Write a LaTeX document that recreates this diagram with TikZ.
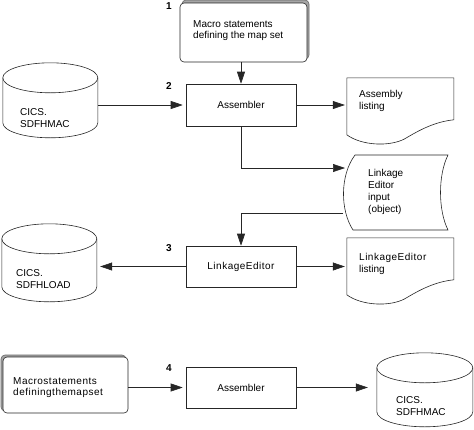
\documentclass[tikz,border=0pt]{standalone}
\usepackage{fontspec}
\setmainfont{Liberation Sans}
\usetikzlibrary{arrows.meta,calc}
\newfontfamily\spacedfont[LetterSpace=5]{Liberation Sans}
\begin{document}
\begin{tikzpicture}[x=1pt,y=1pt,
  line/.style={draw=black!85, line width=0.6pt},
  arr/.style={line, -{Triangle[length=12pt,width=8pt]}},
  box/.style={line, rectangle, minimum width=110pt, minimum height=42pt, inner sep=0pt,
    font=\fontsize{10}{12}\selectfont},
  area/.style={rectangle, inner sep=0pt},
  txt/.style={anchor=west, align=left, inner sep=0pt, font=\fontsize{10}{12}\selectfont},
  mtxt/.style={anchor=west, align=left, inner sep=0pt, font=\fontsize{10}{11}\selectfont},
  num/.style={inner sep=0pt, font=\bfseries\fontsize{10}{12}\selectfont},
  shadowbox/.style={draw=black!60, fill=black!35, line width=0.6pt, rounded corners=4pt},
  macrobox/.style={line, fill=white, rectangle, rounded corners=4pt, inner sep=0pt},
  pics/docshape/.style={code={
    \draw[line] (0,-57) -- (0,0) -- (107,0) -- (107,-42)
      .. controls (88,-44) and (73,-52) .. (58,-61)
      .. controls (43,-69) and (15,-68) .. (0,-57);
  }},
  pics/cyl/.style 2 args={code={
    \draw[line] (0,-15) -- (0,-#2+15)
      arc[start angle=180, end angle=360, x radius=#1/2, y radius=15] -- (#1,-15);
    \draw[line] (#1/2,-15) ellipse[x radius=#1/2, y radius=15];
  }}
]
\useasboundingbox (0,0) rectangle (474,-429);

% ---- macro box 1 ----
\draw[shadowbox] (182,0) rectangle (309,-59);
\node[macrobox, minimum width=127pt, minimum height=59pt] (m1) at (243.5,-32.5) {};
\node[mtxt] (m1t) at (193,-30.5) {Macro statements\\defining the map set};
\node[num] (n1) at (169,-6) {1};

% ---- assembler 1 ----
\node[box] (asm1) at (241,-105) {Assembler};
\node[num] (n2) at (169,-86) {2};

% ---- cylinder 1 ----
\node[area, minimum width=95pt, minimum height=75pt] (c1) at (50.5,-100.5) {};
\pic at (c1.north west) {cyl={95}{75}};
\node[txt] (c1t) at (20,-118) {CICS.\\SDFHMAC};

% ---- assembly listing ----
\node[area, minimum width=107pt, minimum height=66pt] (docA) at (400.5,-111) {};
\pic at (docA.north west) {docshape};
\node[txt] (docAt) at (359,-101) {Assembly\\listing};

% ---- linkage editor input ----
\node[area, minimum width=105pt, minimum height=75pt] (docB) at (395.5,-192.5) {};
\draw[line] (355,-155) -- (448,-155)
  .. controls (438,-175) and (438,-210) .. (448,-230) -- (353,-230)
  .. controls (340,-210) and (340,-175) .. (355,-155) -- cycle;
\node[txt] (docBt) at (368,-192) {Linkage\\Editor\\input\\(object)};
\coordinate (docBin) at (345,-168);
\coordinate (docBout) at (343,-213);

% ---- linkage editor ----
\node[box, minimum height=41pt] (le) at (241,-266.5) {\spacedfont LinkageEditor};
\node[num] (n3) at (169,-248) {3};

% ---- cylinder 2 ----
\node[area, minimum width=95pt, minimum height=78pt] (c2) at (49.5,-263) {};
\pic at (c2.north west) {cyl={95}{78}};
\node[txt] (c2t) at (16,-279.5) {CICS.\\SDFHLOAD};

% ---- linkage editor listing ----
\node[area, minimum width=107pt, minimum height=67pt] (docC) at (400.5,-271.5) {};
\pic at (docC.north west) {docshape};
\node[txt] (docCt) at (359,-264) {{\spacedfont LinkageEditor}\\listing};

% ---- bottom row ----
\draw[shadowbox] (1,-355) rectangle (126,-411);
\node[macrobox, minimum width=125pt, minimum height=56pt] (m4) at (65.5,-385) {};
\node[mtxt] (m4t) at (13,-388) {\spacedfont Macrostatements\\\spacedfont definingthemapset};
\node[box, minimum height=41pt] (asm4) at (241,-387.5) {Assembler};
\node[num] (n4) at (169,-368) {4};
\node[area, minimum width=96pt, minimum height=74pt] (c3) at (425,-390) {};
\pic at (c3.north west) {cyl={96}{74}};
\node[txt] (c3t) at (396,-406) {CICS.\\SDFHMAC};

% ---- connectors ----
\draw[arr] (m1.south -| asm1) -- (asm1.north);
\draw[arr, shorten >=3pt] (c1.east |- asm1) -- (asm1.west);
\draw[arr, shorten >=2pt] (asm1.east) -- (asm1.east -| docA.west);
\draw[arr] (asm1.south) |- (docBin);
\draw[arr] (docBout) -| (le.north);
\draw[arr, shorten >=3pt] (le.west) -- (le.west -| c2.east);
\draw[arr, shorten >=2pt] (le.east) -- (le.east -| docC.west);
\draw[arr, shorten >=3pt] (m4.east |- asm4) -- (asm4.west);
\draw[arr, shorten >=9pt] (asm4.east) -- (asm4.east -| c3.west);
\end{tikzpicture}
\end{document}
